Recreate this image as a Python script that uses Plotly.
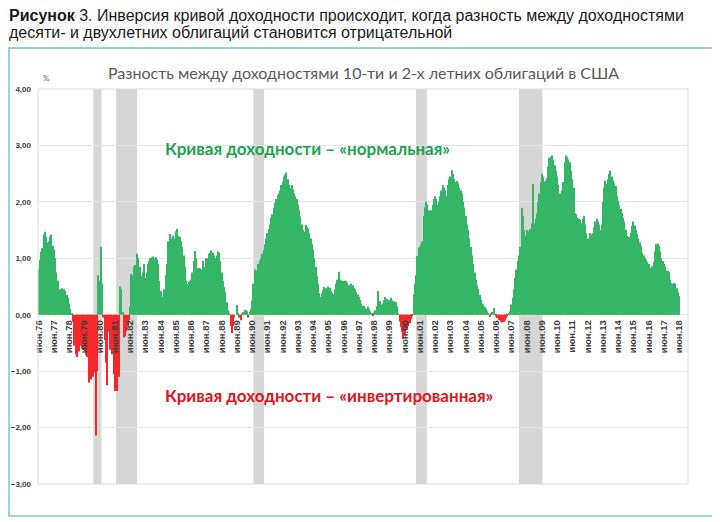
import pandas as pd
import plotly.graph_objects as go

# monthly 10y-2y spread, %, starting June 1976
start_month = "1976-06-01"
spread_1976_1979 = [
    0.80, 0.97, 1.12, 1.18, 1.42, 1.47, 1.38,
    1.28, 1.30, 1.38, 1.42, 1.22, 1.15, 1.00, 0.75, 0.60, 0.40, 0.45, 0.47,
    0.44, 0.45, 0.42, 0.35, 0.30, 0.20, 0.10, 0.02, -0.12, -0.55, -0.70, -0.75,
    -0.62, -0.65, -0.55, -0.60, -0.50, -0.62, -0.72, -0.75, -0.70, -1.20, -1.15, -0.80,
]
spread_1980s = [
    -1.10, -1.02, -2.14, -1.00, 0.70, 0.60, 1.20, 0.55, -0.05, -0.45, -0.85, -1.25,
    -0.30, -0.62, -0.60, -0.70, -1.05, -1.35, -1.00, -1.35, -1.10, 0.50, 0.45, 0.05,
    -0.40, -0.38, -0.30, -0.20, -0.10, 0.15, 0.72, 0.70, 0.85, 0.88, 1.08, 1.00,
    0.82, 0.85, 0.68, 0.75, 0.90, 0.65, 0.75, 0.90, 0.95, 1.00, 1.02, 1.03,
    1.00, 1.02, 0.98, 0.90, 0.60, 0.42, 0.30, 0.32, 0.45, 0.70, 0.90, 1.30,
    1.43, 1.35, 1.10, 1.40, 1.35, 1.48, 1.52, 1.40, 1.38, 1.30, 1.20, 1.05,
    0.85, 0.60, 0.55, 0.58, 0.60, 0.62, 0.75, 0.95, 1.13, 1.00, 0.82, 0.83,
    0.82, 0.80, 0.95, 0.80, 0.85, 1.00, 1.00, 1.08, 1.10, 1.14, 1.10, 1.05,
    1.00, 1.05, 1.12, 1.10, 0.95, 0.75, 0.60, 0.49, 0.40, 0.22, 0.08, 0.02,
    -0.20, -0.33, -0.20, -0.05, 0.00, 0.17, 0.03, -0.05, -0.10, 0.03, 0.05, 0.09,
]
spread_1990s = [
    0.08, 0.06, -0.05, 0.05, 0.10, 0.25, 0.55, 0.80, 0.78, 0.75, 0.90, 0.96,
    1.00, 1.08, 1.15, 1.25, 1.35, 1.45, 1.52, 1.60, 1.72, 1.78, 1.90, 1.98,
    2.05, 2.12, 2.15, 2.20, 2.30, 2.36, 2.45, 2.48, 2.52, 2.40, 2.30, 2.24,
    2.30, 2.22, 2.15, 2.10, 2.05, 1.95, 1.85, 1.74, 1.60, 1.50, 1.47, 1.59,
    1.56, 1.52, 1.45, 1.35, 1.25, 1.15, 1.00, 0.85, 0.68, 0.55, 0.38, 0.32,
    0.38, 0.43, 0.49, 0.47, 0.45, 0.50, 0.48, 0.42, 0.38, 0.36, 0.45, 0.55,
    0.62, 0.76, 0.62, 0.60, 0.60, 0.60, 0.59, 0.60, 0.56, 0.52, 0.50, 0.55,
    0.52, 0.48, 0.45, 0.40, 0.36, 0.32, 0.26, 0.20, 0.16, 0.15, 0.12, 0.10,
    0.14, 0.10, 0.06, 0.03, -0.02, 0.04, 0.08, 0.15, 0.42, 0.22, 0.24, 0.18,
    0.20, 0.26, 0.31, 0.28, 0.25, 0.26, 0.30, 0.25, 0.20, 0.24, 0.22, 0.15,
]
spread_2000s = [
    0.02, -0.12, -0.22, -0.30, -0.43, -0.35, -0.22, -0.25, -0.20, -0.15, -0.08, -0.03,
    0.36, 0.55, 0.70, 1.04, 1.19, 1.20, 1.25, 1.30, 1.75, 1.90, 2.00, 1.95,
    1.85, 1.75, 1.85, 1.95, 2.05, 2.10, 2.05, 1.95, 2.00, 2.10, 2.20, 2.30,
    2.25, 2.20, 2.10, 2.30, 2.40, 2.45, 2.56, 2.50, 2.40, 2.35, 2.37, 2.33,
    2.25, 2.20, 2.15, 2.00, 1.90, 1.75, 1.60, 1.50, 1.35, 1.20, 1.05, 0.90,
    0.75, 0.62, 0.52, 0.45, 0.35, 0.27, 0.20, 0.18, 0.14, 0.10, 0.06, 0.02,
    -0.04, 0.02, 0.05, 0.12, 0.00, -0.03, -0.06, -0.09, -0.10, -0.12, -0.14, -0.13,
    -0.10, -0.06, -0.02, 0.02, 0.06, 0.18, 0.30, 0.45, 0.65, 0.80, 0.95, 1.05,
    1.20, 1.89, 1.75, 1.50, 1.40, 1.50, 1.45, 1.48, 1.52, 1.62, 2.32, 1.62,
    1.70, 1.80, 2.00, 2.15, 2.35, 2.50, 2.45, 2.36, 2.38, 2.42, 2.62, 2.78,
]
spread_2010s = [
    2.80, 2.82, 2.75, 2.65, 2.55, 2.45, 2.30, 2.15, 2.10, 2.20, 2.35, 2.70,
    2.82, 2.80, 2.75, 2.70, 2.55, 2.40, 2.25, 1.80, 1.78, 1.72, 1.70, 1.68,
    1.62, 1.70, 1.75, 1.60, 1.45, 1.35, 1.30, 1.45, 1.42, 1.45, 1.55, 1.65,
    1.70, 1.65, 1.60, 1.50, 1.60, 2.00, 2.25, 2.38, 2.32, 2.40, 2.50, 2.55,
    2.45, 2.38, 2.33, 2.28, 2.10, 2.02, 1.95, 1.88, 1.80, 1.72, 1.65, 1.50,
    1.40, 1.35, 1.38, 1.45, 1.57, 1.65, 1.58, 1.50, 1.43, 1.35, 1.28, 1.22,
    1.10, 1.05, 1.00, 0.97, 0.93, 0.90, 0.82, 0.83, 0.86, 0.93, 1.12, 1.25,
    1.26, 1.22, 1.12, 1.00, 0.95, 0.90, 0.86, 0.78, 0.78, 0.76, 0.62, 0.56,
    0.55, 0.56, 0.55, 0.47, 0.40, 0.33,
]

# US recessions (grey bands)
recession_start = ["1980-01-01", "1981-07-01", "1990-07-01", "2001-03-01", "2007-12-01"]
recession_end = ["1980-07-15", "1982-11-15", "1991-03-15", "2001-11-15", "2009-06-15"]

tick_years = list(range(1976, 2019))
tick_labels = ["июн.%02d" % (y % 100) for y in tick_years]

values = spread_1976_1979 + spread_1980s + spread_1990s + spread_2000s + spread_2010s
months = pd.date_range(start_month, periods=len(values), freq="MS")
colors = ["#35b566" if v >= 0 else "#f42a2a" for v in values]

fig = go.Figure()
fig.add_bar(x=months, y=values, marker_color=colors, marker_line_width=0)

# page has an 8px body margin, so the plot area sits at 30..680 x 81..476 of the figure
for s, e in zip(recession_start, recession_end):
    fig.add_shape(type="rect", xref="x", yref="paper", x0=s, x1=e, y0=0, y1=1,
                  fillcolor="#d6d6d6", line_width=0, layer="between")

fig.add_shape(type="rect", xref="paper", yref="paper", x0=0, x1=1, y0=0, y1=1,
              line=dict(color="#dcdcdc", width=1))
fig.add_shape(type="rect", xref="paper", yref="paper", x0=-0.0446, x1=1.04, y0=-0.081, y1=1.1038,
              line=dict(color="#7cc2d8", width=1.5))

cap_font = dict(family="Liberation Sans", size=16, color="#1a1a1a")
fig.add_annotation(xref="paper", yref="paper", x=-0.0475, y=1.1873, xanchor="left", yanchor="middle",
                   text="<b>Рисунок</b> 3. Инверсия кривой доходности происходит, когда разность между доходностями",
                   showarrow=False, font=cap_font)
fig.add_annotation(xref="paper", yref="paper", x=-0.0475, y=1.1418, xanchor="left", yanchor="middle",
                   text="десяти- и двухлетних облигаций становится отрицательной",
                   showarrow=False, font=cap_font)
fig.add_annotation(xref="paper", yref="paper", x=0.5, y=1.043, xanchor="center", yanchor="middle",
                   text="Разность между доходностями 10-ти и 2-х летних облигаций в США",
                   showarrow=False, font=dict(family="Lato", size=16, color="#595959"))
fig.add_annotation(xref="paper", yref="paper", x=0.004, y=1.028, xanchor="left", yanchor="middle",
                   text="%", showarrow=False, font=dict(family="Lato", size=8, color="#666666"))
fig.add_annotation(xref="paper", yref="paper", x=0.1923, y=0.8506, xanchor="left", yanchor="middle",
                   text="<b>Кривая доходности – «нормальная»</b>",
                   showarrow=False, font=dict(family="Lato", size=17, color="#1ea34f"))
fig.add_annotation(xref="paper", yref="paper", x=0.1923, y=0.2253, xanchor="left", yanchor="middle",
                   text="<b>Кривая доходности – «инвертированная»</b>",
                   showarrow=False, font=dict(family="Lato", size=17, color="#e3141b"))

fig.update_layout(
    width=720, height=522,
    margin=dict(l=30, r=40, t=81, b=46, autoexpand=False),
    paper_bgcolor="white", plot_bgcolor="white",
    separators=", ",
    showlegend=False,
    bargap=0.12,
    xaxis=dict(
        type="date", range=["1976-05-16", "2019-01-01"],
        anchor="free", position=0.432, automargin=False,
        tickvals=[f"{y}-06-01" for y in tick_years], ticktext=tick_labels,
        tickangle=-90, ticks="", ticklabelstandoff=4,
        showgrid=False, showline=False, zeroline=False,
        tickfont=dict(family="Liberation Sans", size=9.5, color="#3a3a3a", weight="bold"),
    ),
    yaxis=dict(
        range=[-3, 4], dtick=1, tickformat=".2f", automargin=False,
        showgrid=True, gridcolor="#e6e6e6", gridwidth=1, zeroline=False,
        ticks="", ticklabelstandoff=6,
        tickfont=dict(family="Liberation Sans", size=8, color="#404040", weight="bold"),
    ),
)

fig.write_html("out.html")
